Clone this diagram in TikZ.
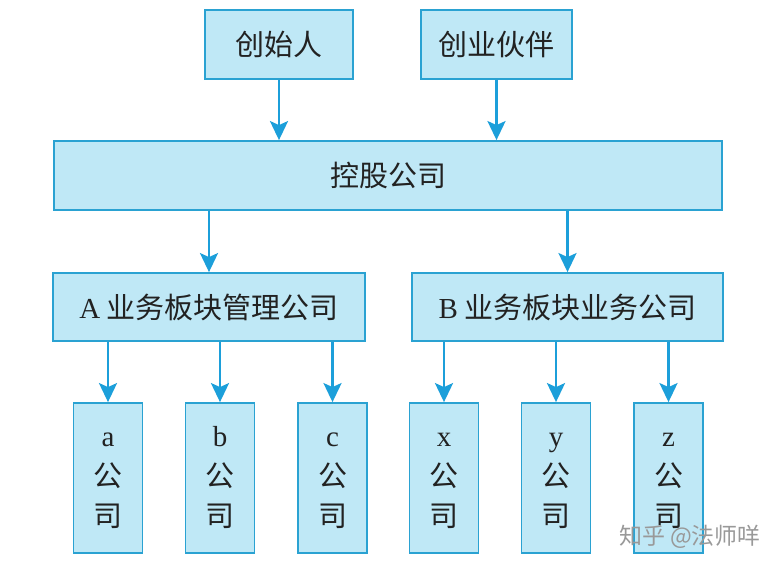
\documentclass[tikz,border=0pt]{standalone}
\usepackage{fontspec}
\setmainfont{Liberation Serif}
\newfontfamily\cjk{Noto Sans CJK SC}
\usetikzlibrary{arrows.meta}
\definecolor{boxfill}{HTML}{BFE8F6}
\definecolor{boxline}{HTML}{2AA2D2}
\definecolor{arrowc}{HTML}{1C9FDA}
\definecolor{txt}{HTML}{222222}
\tikzset{
  box/.style={draw=boxline, fill=boxfill, line width=1.8pt, text=txt, font=\fontsize{29}{31}\selectfont\cjk, inner sep=0pt, anchor=center},
  sbox/.style={box, minimum width=69pt, minimum height=150pt, align=center, font=\fontsize{29}{40}\selectfont\cjk},
  conn/.style={draw=arrowc, line width=2.7pt, -{Stealth[length=19pt,width=18pt,inset=4pt]}},
}
\newcommand{\vlabel}[1]{{\rmfamily #1}\strut\\公\strut\\司\strut}
\begin{document}
\begin{tikzpicture}[x=1pt,y=-1pt]
\useasboundingbox[fill=white] (0,0) rectangle (783,568);
\node[box, minimum width=148pt, minimum height=69pt] (founder) at (279,44.5) {创始人};
\node[box, minimum width=151pt, minimum height=69pt] (partner) at (496.5,44.5) {创业伙伴};
\node[box, minimum width=668pt, minimum height=69pt] (hold) at (388,175.5) {控股公司};
\node[box, minimum width=312pt, minimum height=68pt] (A) at (209,307) {{\rmfamily A} 业务板块管理公司};
\node[box, minimum width=311pt, minimum height=68pt] (B) at (567.5,307) {{\rmfamily B} 业务板块业务公司};
\node[sbox] (a) at (108,478) {\vlabel{a}};
\node[sbox] (b) at (220,478) {\vlabel{b}};
\node[sbox] (c) at (332.5,478) {\vlabel{c}};
\node[sbox] (x) at (444,478) {\vlabel{x}};
\node[sbox] (y) at (556,478) {\vlabel{y}};
\node[sbox] (z) at (668.5,478) {\vlabel{z}};
\draw[conn] (founder.south) -- (founder.south |- hold.north);
\draw[conn] (partner.south) -- (partner.south |- hold.north);
\draw[conn] (hold.south -| A.north) -- (A.north);
\draw[conn] (hold.south -| B.north) -- (B.north);
\foreach \n in {a,b,c}{\draw[conn] (A.south -| \n.north) -- (\n.north);}
\foreach \n in {x,y,z}{\draw[conn] (B.south -| \n.north) -- (\n.north);}
\node[text=black!40, font=\fontsize{23}{25}\selectfont\cjk, inner sep=0pt] (wm) at (690,537) {知乎 @法师咩};
\end{tikzpicture}
\end{document}
